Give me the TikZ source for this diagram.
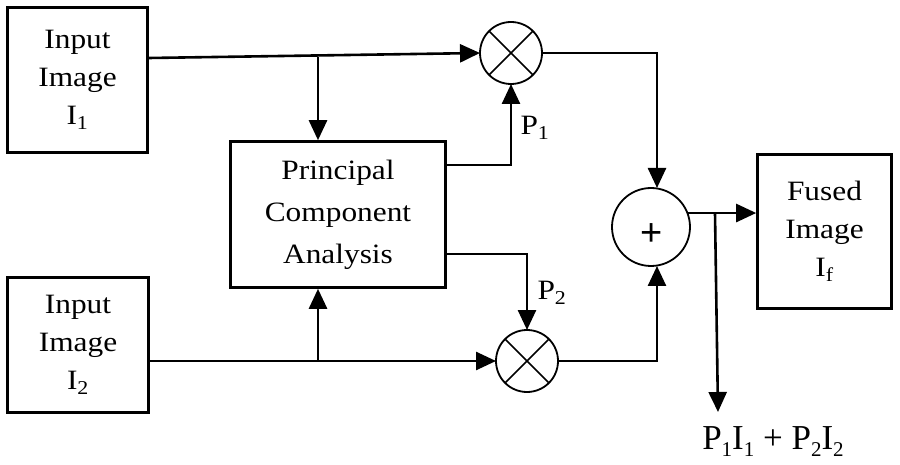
\documentclass[tikz,border=0pt]{standalone}
\usepackage{fontspec}
\setmainfont{Liberation Serif}[FakeStretch=1.12]
\newfontfamily\resfont{Liberation Serif}
\newfontfamily\plusfont{Liberation Sans}
\newcommand{\rsb}[1]{\raisebox{-0.2em}{\fontsize{21}{21}\selectfont #1}}
\usetikzlibrary{arrows.meta}
\begin{document}
\begin{tikzpicture}[x=1pt,y=-1pt,
  box/.style={draw,line width=2.6pt,inner sep=0pt,align=center,font=\fontsize{28}{38}\selectfont},
  mult/.style={draw,circle,line width=1.8pt,minimum size=62pt,inner sep=0pt,outer sep=0pt},
  conn/.style={line width=2.6pt},
  arr/.style={conn,-{Triangle[length=20pt,width=18pt]}},
  lbl/.style={font=\fontsize{28}{32}\selectfont,inner sep=0pt}]
\fill[white] (0,0) rectangle (900,465);
\useasboundingbox (0,0) rectangle (900,465);
% boxes
\node[box,minimum width=140pt,minimum height=145pt] (in1) at (77.5,80) {Input\\Image\\I\textsubscript{1}};
\node[box,minimum width=141pt,minimum height=135pt] (in2) at (78,345) {Input\\Image\\I\textsubscript{2}};
\node[box,minimum width=215pt,minimum height=146pt,font=\fontsize{28}{42}\selectfont] (pca) at (338,214.5) {Principal\\Component\\Analysis};
\node[box,minimum width=134pt,minimum height=154pt] (fused) at (824.5,231.5) {Fused\\Image\\I\textsubscript{f}};
% operators
\node[mult] (m1) at (511,53) {};
\node[mult] (m2) at (527,361) {};
\node[mult,minimum size=78pt] (plus) at (651,227) {};
\node[inner sep=0pt,font=\plusfont\fontsize{38}{40}\selectfont] (plustxt) at (652,234.5) {+};
\draw[line width=1.5pt] (m1.45) -- (m1.225) (m1.135) -- (m1.315);
\draw[line width=1.5pt] (m2.45) -- (m2.225) (m2.135) -- (m2.315);
% coordinates
\coordinate (a1) at (in1.east |- 0,58);
\coordinate (b1) at (318,57);
\coordinate (a2) at (in2.east |- 0,361);
\coordinate (b2) at (318,361);
\coordinate (p1) at (pca.east |- 0,165);
\coordinate (p2) at (pca.east |- 0,254);
\coordinate (b3) at (715,213);
\coordinate (out) at (718,412);
% connectors
\draw[arr] (a1) -- (m1.west);
\draw[arr] (b1) -- (b1 |- pca.north);
\draw[arr] (a2) -- (m2.west);
\draw[arr] (b2) -- (b2 |- pca.south);
\draw[arr] (p1) -| (m1.south);
\draw[arr] (p2) -| (m2.north);
\draw[arr] (m1.east) -| ([xshift=6pt]plus.north);
\draw[arr] (m2.east) -| ([xshift=6pt]plus.south);
\draw[arr] (plus.21) -- (plus.21 -| fused.west);
\draw[arr] (b3) -- (out);
% labels
\node[lbl] (lp1) at (535,128) {P\textsubscript{1}};
\node[lbl] (lp2) at (552,293) {P\textsubscript{2}};
\node[inner sep=0pt,font=\resfont\fontsize{35}{40}\selectfont] (res) at (773,442) {P\rsb{1}I\rsb{1} + P\rsb{2}I\rsb{2}};
\end{tikzpicture}
\end{document}
